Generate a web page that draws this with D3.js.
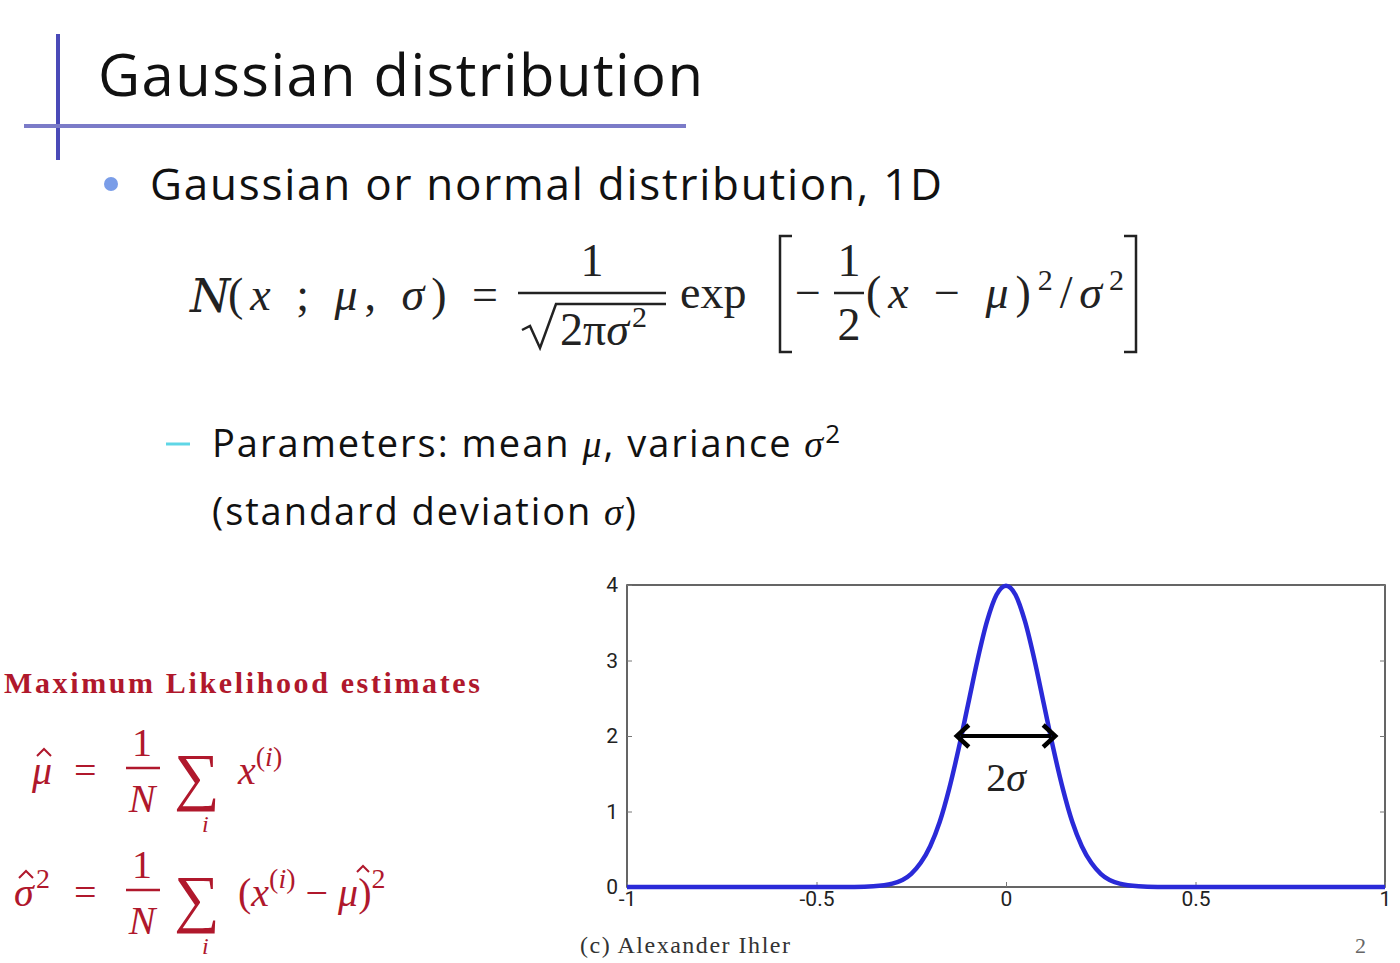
<!DOCTYPE html>
<html><head><meta charset="utf-8">
<script src="https://cdn.jsdelivr.net/npm/d3@7"></script>
<style>body{margin:0;background:#fff}svg{display:block}</style>
</head><body><svg id="c" width="1400" height="963"></svg>
<script>
// curve values (sigma about 0.1)
let xs = [-1, -0.6, -0.45, -0.4, -0.35, -0.3, -0.25, -0.225, -0.2, -0.175, -0.15, -0.125, -0.1, -0.075, -0.05, -0.025, 0,
          0.025, 0.05, 0.075, 0.1, 0.125, 0.15, 0.175, 0.2, 0.225, 0.25, 0.3, 0.35, 0.4, 0.45, 0.6, 1];
let ys = [0, 0, 0, 0.001, 0.009, 0.044, 0.175, 0.32, 0.54, 0.86, 1.30, 1.83, 2.42, 3.01, 3.52, 3.87, 3.99,
          3.87, 3.52, 3.01, 2.42, 1.83, 1.30, 0.86, 0.54, 0.32, 0.175, 0.044, 0.009, 0.001, 0, 0, 0];
let xTicks = [-1, -0.5, 0, 0.5, 1];
let xTickLabels = ['-1', '-0.5', '0', '0.5', '1'];
let yTicks = [0, 1, 2, 3, 4];
let arrowSpan = [-0.135, 0.135];
let arrowLevel = 2;

let svg = d3.select('#c');
let sans = "'Open Sans', Lato, sans-serif";
let serif = "'Liberation Serif', 'DejaVu Serif', serif";
let slate = '#4a4ab8';

// title block
svg.append('line').attr('x1', 58).attr('x2', 58).attr('y1', 34).attr('y2', 160).attr('stroke', slate).attr('stroke-width', 4);
svg.append('line').attr('x1', 24).attr('x2', 686).attr('y1', 126).attr('y2', 126).attr('stroke', '#7b7bc8').attr('stroke-width', 4);
svg.append('text').attr('x', 98).attr('y', 96).attr('font-family', sans).attr('font-size', 58).attr('fill', '#111')
  .attr('textLength', 605).attr('lengthAdjust', 'spacing').text('Gaussian distribution');

svg.append('circle').attr('cx', 111).attr('cy', 184).attr('r', 7).attr('fill', '#7a9de8');
svg.append('text').attr('x', 150).attr('y', 200).attr('font-family', sans).attr('font-size', 44).attr('fill', '#111')
  .attr('textLength', 792).attr('lengthAdjust', 'spacing').text('Gaussian or normal distribution, 1D');

// main formula
let f = svg.append('g').attr('font-family', serif).attr('font-size', 46).attr('fill', '#222');
f.append('text').attr('x', 190).attr('y', 312).attr('font-family', "'DejaVu Serif', serif").attr('font-style', 'italic').attr('font-size', 46).text('N');
f.append('text').attr('x', 228).attr('y', 310).attr('textLength', 270).attr('lengthAdjust', 'spacing')
  .html('(<tspan font-style="italic">x</tspan> ; <tspan font-style="italic">μ</tspan>, <tspan font-style="italic">σ</tspan>) =');
f.append('text').attr('x', 592).attr('y', 276).attr('text-anchor', 'middle').text('1');
f.append('line').attr('x1', 518).attr('x2', 666).attr('y1', 293).attr('y2', 293).attr('stroke', '#222').attr('stroke-width', 2.5);
f.append('path').attr('d', 'M522,330 L530,326 L540,348 L556,304 L666,304').attr('fill', 'none').attr('stroke', '#222').attr('stroke-width', 2.5);
f.append('text').attr('x', 560).attr('y', 345).html('2π<tspan font-style="italic">σ</tspan><tspan dy="-18" dx="3" font-size="30">2</tspan>');
f.append('text').attr('x', 680).attr('y', 308).text('exp');
f.append('path').attr('d', 'M792,236 L780,236 L780,352 L792,352').attr('fill', 'none').attr('stroke', '#222').attr('stroke-width', 2.5);
f.append('path').attr('d', 'M1124,236 L1136,236 L1136,352 L1124,352').attr('fill', 'none').attr('stroke', '#222').attr('stroke-width', 2.5);
f.append('text').attr('x', 795).attr('y', 308).text('−');
f.append('text').attr('x', 849).attr('y', 276).attr('text-anchor', 'middle').text('1');
f.append('line').attr('x1', 834).attr('x2', 864).attr('y1', 293).attr('y2', 293).attr('stroke', '#222').attr('stroke-width', 2.5);
f.append('text').attr('x', 849).attr('y', 340).attr('text-anchor', 'middle').text('2');
f.append('text').attr('x', 866).attr('y', 308).attr('textLength', 258).attr('lengthAdjust', 'spacing')
  .html('(<tspan font-style="italic">x</tspan> − <tspan font-style="italic">μ</tspan>)<tspan dy="-18" font-size="30">2</tspan><tspan dy="18">/</tspan><tspan font-style="italic">σ</tspan><tspan dy="-18" font-size="30">2</tspan>');

// parameters
svg.append('line').attr('x1', 166).attr('x2', 190).attr('y1', 444).attr('y2', 444).attr('stroke', '#5fd6e6').attr('stroke-width', 3);
svg.append('text').attr('x', 212).attr('y', 457).attr('font-family', sans).attr('font-size', 38).attr('fill', '#111')
  .attr('textLength', 628).attr('lengthAdjust', 'spacing')
  .html('Parameters: mean <tspan font-family="' + serif + '" font-style="italic">μ</tspan>, variance <tspan font-family="' + serif + '" font-style="italic">σ</tspan><tspan font-size="26" dy="-14">2</tspan>');
svg.append('text').attr('x', 212).attr('y', 525).attr('font-family', sans).attr('font-size', 38).attr('fill', '#111')
  .attr('textLength', 424).attr('lengthAdjust', 'spacing')
  .html('(standard deviation <tspan font-family="' + serif + '" font-style="italic">σ</tspan>)');

// ML estimates
let red = '#b0182c';
svg.append('text').attr('x', 4).attr('y', 693).attr('font-family', serif).attr('font-weight', 'bold').attr('font-size', 30).attr('fill', red)
  .attr('textLength', 476).attr('lengthAdjust', 'spacing').text('Maximum Likelihood estimates');
let m = svg.append('g').attr('font-family', serif).attr('font-size', 40).attr('fill', red);
function estimate(y0, sym, sq, rhs) {
  m.append('text').attr('x', sq ? 14 : 32).attr('y', y0).attr('font-style', 'italic').text(sym);
  m.append('path').attr('d', `M${(sq ? 14 : 32) + 5},${y0 - 28} l7,-7 l7,7`).attr('fill', 'none').attr('stroke', red).attr('stroke-width', 2);
  if (sq) m.append('text').attr('x', 36).attr('y', y0 - 18).attr('font-size', 28).text('2');
  m.append('text').attr('x', 74).attr('y', y0).text('=');
  m.append('text').attr('x', 142).attr('y', y0 - 28).attr('text-anchor', 'middle').text('1');
  m.append('line').attr('x1', 126).attr('x2', 160).attr('y1', y0 - 16).attr('y2', y0 - 16).attr('stroke', red).attr('stroke-width', 2.5);
  m.append('text').attr('x', 142).attr('y', y0 + 28).attr('text-anchor', 'middle').attr('font-style', 'italic').text('N');
  m.append('text').attr('x', 174).attr('y', y0 + 14).attr('font-size', 64).text('∑');
  m.append('text').attr('x', 202).attr('y', y0 + 48).attr('font-style', 'italic').attr('font-size', 24).text('i');
  m.append('text').attr('x', 238).attr('y', y0).html(rhs);
}
estimate(784, 'μ', false, '<tspan font-style="italic">x</tspan><tspan dy="-18" font-size="28">(<tspan font-style="italic">i</tspan>)</tspan>');
estimate(906, 'σ', true,
  '(<tspan font-style="italic">x</tspan><tspan dy="-18" font-size="28">(<tspan font-style="italic">i</tspan>)</tspan><tspan dy="18"> − </tspan><tspan font-style="italic">μ</tspan>)<tspan dy="-18" font-size="28">2</tspan>');
m.append('path').attr('d', 'M357,872 l6,-6 l6,6').attr('fill', 'none').attr('stroke', red).attr('stroke-width', 2);

// plot
let x = d3.scaleLinear().domain([-1, 1]).range([627, 1385]);
let y = d3.scaleLinear().domain([0, 4]).range([887, 585]);
let plot = svg.append('g');
plot.append('rect').attr('x', 627).attr('y', 585).attr('width', 758).attr('height', 302).attr('fill', 'none').attr('stroke', '#333').attr('stroke-width', 1.5);
plot.append('g').attr('transform', 'translate(0,887)').call(d3.axisBottom(x).tickValues(xTicks).tickFormat((d, i) => xTickLabels[i]).tickSize(-5).tickPadding(4))
  .call(g => g.select('.domain').remove())
  .selectAll('text').attr('font-family', 'Roboto, sans-serif').attr('font-size', 21).attr('fill', '#222');
plot.append('g').attr('transform', 'translate(1385,587)').call(d3.axisTop(x).tickValues(xTicks).tickFormat('').tickSize(-5)).call(g => g.select('.domain').remove());
plot.append('g').attr('transform', 'translate(627,0)').call(d3.axisLeft(y).tickValues(yTicks).tickFormat(d3.format('d')).tickSize(-5).tickPadding(9))
  .call(g => g.select('.domain').remove())
  .selectAll('text').attr('font-family', 'Roboto, sans-serif').attr('font-size', 21).attr('fill', '#222');
plot.append('g').attr('transform', 'translate(1385,0)').call(d3.axisRight(y).tickValues(yTicks).tickFormat('').tickSize(-5)).call(g => g.select('.domain').remove());
plot.selectAll('.tick line').attr('stroke', '#777');

let line = d3.line().x((d, i) => x(xs[i])).y(d => y(d)).curve(d3.curveMonotoneX);
plot.append('path').datum(ys).attr('d', line).attr('fill', 'none').attr('stroke', '#2a2ad8').attr('stroke-width', 4.5);

// 2 sigma arrow
let ay = y(arrowLevel), ax0 = x(arrowSpan[0]), ax1 = x(arrowSpan[1]);
plot.append('line').attr('x1', ax0 + 6).attr('x2', ax1 - 6).attr('y1', ay).attr('y2', ay).attr('stroke', '#000').attr('stroke-width', 4);
plot.append('path').attr('d', `M${ax0 + 14},${ay - 11} L${ax0 + 2},${ay} L${ax0 + 14},${ay + 11}`).attr('fill', 'none').attr('stroke', '#000').attr('stroke-width', 4.5);
plot.append('path').attr('d', `M${ax1 - 14},${ay - 11} L${ax1 - 2},${ay} L${ax1 - 14},${ay + 11}`).attr('fill', 'none').attr('stroke', '#000').attr('stroke-width', 4.5);
plot.append('text').attr('x', x(0)).attr('y', ay + 55).attr('text-anchor', 'middle').attr('font-family', serif).attr('font-size', 40).attr('fill', '#222')
  .html('2<tspan font-style="italic">σ</tspan>');

// footer
svg.append('text').attr('x', 580).attr('y', 953).attr('font-family', serif).attr('font-size', 24).attr('fill', '#333')
  .attr('textLength', 210).attr('lengthAdjust', 'spacing').text('(c) Alexander Ihler');
svg.append('text').attr('x', 1355).attr('y', 953).attr('font-family', serif).attr('font-size', 22).attr('fill', '#666').text('2');
</script></body></html>
